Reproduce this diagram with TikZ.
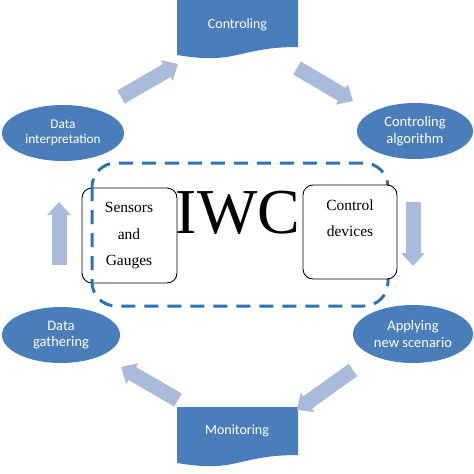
\documentclass[tikz,border=0pt]{standalone}
\usepackage{fontspec}
\setmainfont{Liberation Serif}
\newfontfamily\calib{Carlito}
\usetikzlibrary{shapes.geometric,arrows.meta}
\definecolor{docblue}{HTML}{4A7EBB}
\definecolor{arrblue}{HTML}{A9BBDB}
\definecolor{dashblue}{HTML}{2E74B5}
\begin{document}
\begin{tikzpicture}[x=1pt,y=-1pt,
 ell/.style={ellipse, fill=docblue, inner sep=0pt, text=white, font=\calib\fontsize{14.5}{16.5}\selectfont, align=center},
 doctext/.style={text=white, font=\calib\fontsize{14}{16}\selectfont},
 blockarrow/.style={arrblue, line width=15pt, -{Triangle[width=23pt,length=13pt]}},
 boxstyle/.style={draw=black, line width=0.9pt, rounded corners=10pt, fill=white},
 boxtext/.style={font=\fontsize{15.5}{26.5}\selectfont, align=center}]
\useasboundingbox (0,0) rectangle (474,474);
\fill[white] (0,0) rectangle (474,474);

% document shapes
\fill[docblue] (177,-1) -- (298,-1) -- (298,47) .. controls (237.5,47) and (237.5,65.4) .. (177,55) -- cycle;
\node[doctext] (ctrl) at (237.5,25) {Controling};
\fill[docblue] (177,407) -- (298,407) -- (298,455) .. controls (237.5,455) and (237.5,473.4) .. (177,463) -- cycle;
\node[doctext] (mon) at (237,431) {Monitoring};

% ellipses
\node[ell, minimum width=122pt, minimum height=56pt, font=\calib\fontsize{13.3}{15}\selectfont] (interp) at (63,133) {Data\\interpretation};
\node[ell, minimum width=116pt, minimum height=56pt] (algo) at (415,131) {Controling\\algorithm};
\node[ell, minimum width=118pt, minimum height=56pt] (gath) at (61,335) {Data\\gathering};
\node[ell, minimum width=120pt, minimum height=58pt] (apply) at (413,334) {Applying\\new scenario};

% block arrows
\coordinate (a1s) at (121,97);  \coordinate (a1e) at (178,64);
\coordinate (a2s) at (297,68);  \coordinate (a2e) at (353,101);
\coordinate (a3s) at (413,202); \coordinate (a3e) at (413,266);
\coordinate (a4s) at (353,370); \coordinate (a4e) at (297,410);
\coordinate (a5s) at (178,400); \coordinate (a5e) at (121,367);
\coordinate (a6s) at (59,265);  \coordinate (a6e) at (59,202);
\draw[blockarrow] (a1s) -- (a1e);
\draw[blockarrow] (a2s) -- (a2e);
\draw[blockarrow] (a3s) -- (a3e);
\draw[blockarrow] (a4s) -- (a4e);
\draw[blockarrow] (a5s) -- (a5e);
\draw[blockarrow] (a6s) -- (a6e);

% sensors box (under dashed line)
\draw[boxstyle] (82,188) rectangle (177,283);
\node[boxtext] (sens) at (129,236) {Sensors\\and\\Gauges};

% dashed IWC boundary
\draw[dashblue, line width=3pt, dash pattern=on 14pt off 9pt, rounded corners=24pt] (92,163) rectangle (388,306);

% control devices box (over dashed line)
\draw[boxstyle] (303,185) rectangle (397,279);
\node[boxtext] (cdev) at (350,218) {Control\\devices};

\node[font=\fontsize{64}{64}\selectfont, anchor=base] (iwc) at (238,233) {IWC};
\end{tikzpicture}
\end{document}
